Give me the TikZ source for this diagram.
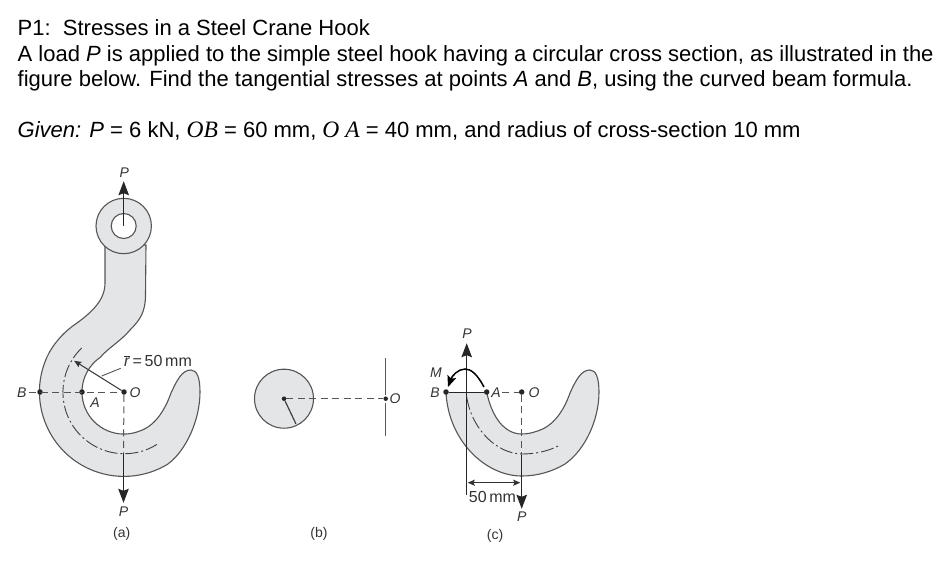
\documentclass[tikz,border=0pt]{standalone}
\usepackage{fontspec}
\setmainfont{Liberation Sans}
\newfontfamily\serifnames{Liberation Serif}
\usetikzlibrary{arrows.meta}
\definecolor{steel}{HTML}{E4E5E7}
\definecolor{edgeline}{HTML}{555555}
\definecolor{figtext}{HTML}{333333}
\tikzset{
  body/.style={fill=steel,draw=edgeline,line width=1.1pt},
  bodytext/.style={anchor=base west,inner sep=0pt,font=\fontsize{22}{26}\selectfont,text=black},
  figlabel/.style={inner sep=0pt,font=\fontsize{14}{16}\selectfont\itshape,text=figtext},
  caption/.style={inner sep=0pt,font=\fontsize{14}{16}\selectfont,text=figtext},
  dotnode/.style={circle,fill=black!85,inner sep=0pt,minimum size=5.5pt},
  bare/.style={inner sep=0pt,minimum size=0pt},
  dashline/.style={draw=edgeline,line width=1pt,dash pattern=on 7pt off 4.5pt},
  centreline/.style={draw=black!75,line width=0.9pt,dash pattern=on 13pt off 3pt on 2pt off 3pt},
  solidline/.style={draw=black!85,line width=1.2pt},
  bigtip/.style={-{Stealth[length=14pt,width=10.5pt,inset=2pt]}},
  smalltip/.style={-{Stealth[length=7pt,width=6pt,inset=1pt]}},
  twotips/.style={{Stealth[length=7pt,width=6pt,inset=1pt]}-{Stealth[length=7pt,width=6pt,inset=1pt]}}
}
\begin{document}
\begin{tikzpicture}[x=1pt,y=1pt,yscale=-1]
\useasboundingbox (0,0) rectangle (950,560);
% text
\node[bodytext] (t1) at (17.5,35) {P1:\ \ Stresses in a Steel Crane Hook};
\node[bodytext] (t2) at (17.5,61) {A load \textit{P} is applied to the simple steel hook having a circular cross section, as illustrated in the};
\node[bodytext] (t3) at (17.5,86) {figure below. Find the tangential stresses at points \textit{A} and \textit{B}, using the curved beam formula.};
\node[bodytext] (t4) at (17.5,137) {\textit{Given: P} = 6 kN, {\fontsize{23.5}{26}\serifnames\textit{OB}} = 60 mm, {\fontsize{23.5}{26}\serifnames\textit{O A}} = 40 mm, and radius of cross-section 10 mm};

% ---- (a) ----
\path[body] (105,245) -- (105,283)
  .. controls (105,300) and (92,312) .. (77,323)
  .. controls (62,333) and (52,346) .. (47,357)
  arc[start angle=204.4,end angle=59,radius=84.5]
  .. controls (186,451) and (200,420) .. (200,392)
  .. controls (200,378) and (197,370) .. (191,370)
  .. controls (182,370) and (177,380) .. (171,393)
  .. controls (165,410) and (155,426) .. (139.7,431)
  arc[start angle=68,end angle=235.6,radius=42]
  .. controls (107,349) and (122,340) .. (130,330)
  .. controls (140,320) and (145.5,312) .. (145.5,295)
  -- (146,245) -- cycle;
\path[body] (123.7,226) circle[radius=27.7];
\path[fill=white,draw=edgeline,line width=1.1pt] (123.7,226) circle[radius=12.5];

\node[bare] (eyeC) at (123.7,226) {};
\node[bare] (topTip) at (123.7,181) {};
\node[figlabel] (Ptop) at (124.3,173) {P};
\draw[solidline,bigtip] (eyeC) -- (topTip);

\node[dotnode] (Oa) at (124,392) {};
\node[dotnode] (Aa) at (82,392) {};
\node[dotnode] (Ba) at (40,392) {};
\node[bare] (Bfree) at (29,392) {};
\draw[dashline] (Bfree) -- (Oa);
\node[figlabel] (Blab) at (21.7,392.5) {B};
\node[figlabel] (Alab) at (95,403) {A};
\node[figlabel] (Olab) at (135,392.5) {O};
\draw[centreline] (81.7,348) arc[start angle=226,end angle=58,radius=61.5];
\node[bare] (rTip) at (74,360.7) {};
\draw[draw=black!80,line width=1pt,smalltip] (Oa) -- (rTip);
\node[figtext,anchor=base west,inner sep=0pt,font=\fontsize{16}{18}\selectfont] (rlab) at (124,366) {$\overline{\hbox{\fontsize{16}{18}\selectfont\textit{r}}}$\,=\,50\,mm};
\coordinate (leadA) at (120.7,368.3);
\coordinate (leadB) at (101.7,376);
\draw[draw=edgeline,line width=0.9pt] (leadA) -- (leadB);
\node[bare] (aMid) at (123.5,453) {};
\node[bare] (aTip) at (123.5,503) {};
\draw[dashline] (Oa) -- (aMid);
\draw[solidline,bigtip] (aMid) -- (aTip);
\node[figlabel] (Pbot) at (123.5,512) {P};
\node[caption] (capa) at (121.7,534) {(a)};

% ---- (b) ----
\path[body] (284,398.7) circle[radius=29.5];
\node[dotnode,minimum size=4.5pt] (Cb) at (284,398.7) {};
\node[dotnode,minimum size=4.5pt] (Ob) at (385.7,398.7) {};
\draw[dashline] (Cb) -- (Ob);
\node[bare] (rb) at (296,424) {};
\draw[draw=black!75,line width=1.2pt] (Cb) -- (rb);
\node[bare] (vb1) at (385.7,358) {};
\node[bare] (vb2) at (385.7,395) {};
\node[bare] (vb3) at (385.7,403) {};
\node[bare] (vb4) at (385.7,436) {};
\draw[draw=black!65,line width=1.5pt] (vb1) -- (vb2) (vb3) -- (vb4);
\node[figlabel] (Oblab) at (395,399) {O};
\node[caption] (capb) at (319,534) {(b)};

% ---- (c) ----
\path[fill=steel] (446,392)
  .. controls (448,440) and (485,476) .. (521.7,476)
  arc[start angle=90,end angle=59,radius=84]
  .. controls (585,450) and (599,420) .. (599,392)
  .. controls (599,378) and (596,370) .. (590,370)
  .. controls (581,370) and (576,380) .. (570,393)
  .. controls (564,410) and (554,426) .. (537.5,431)
  .. controls (532,433) and (527,434) .. (521.7,434)
  .. controls (505,434) and (492,418) .. (486.7,392) -- cycle;
\draw[draw=edgeline,line width=1.1pt] (446,392)
  .. controls (448,440) and (485,476) .. (521.7,476)
  arc[start angle=90,end angle=59,radius=84]
  .. controls (585,450) and (599,420) .. (599,392)
  .. controls (599,378) and (596,370) .. (590,370)
  .. controls (581,370) and (576,380) .. (570,393)
  .. controls (564,410) and (554,426) .. (537.5,431)
  .. controls (532,433) and (527,434) .. (521.7,434)
  .. controls (505,434) and (492,418) .. (486.7,392);
\draw[centreline] (466.7,397) .. controls (472,430) and (497,453.5) .. (521.7,454)
  .. controls (536,454) and (549,451) .. (560,445);
\node[dotnode] (Bc) at (446,392) {};
\node[dotnode] (Ac) at (486.7,392) {};
\node[dotnode] (Oc) at (521.7,392) {};
\draw[draw=black!85,line width=0.9pt] (Bc) -- (Ac);
\node[bare] (Adash) at (502,392) {};
\draw[dashline] (Adash) -- (Oc);
\node[bare] (cTop) at (466.7,343) {};
\node[bare] (cBot) at (466.7,495) {};
\draw[solidline,bigtip] (cBot) -- (cTop);
\node[figlabel] (Pc) at (467,334) {P};
\node[bare] (cMid) at (521.7,455) {};
\node[bare] (cTip) at (521.7,509) {};
\draw[dashline] (Oc) -- (cMid);
\draw[solidline,bigtip] (cMid) -- (cTip);
\node[figlabel] (Pc2) at (521.7,517) {P};
\coordinate (mStart) at (484,387);
\coordinate (mEnd) at (448,387);
\draw[draw=black,line width=1.5pt,-{Stealth[length=11pt,width=9pt,inset=2pt]}] (mStart) .. controls (477,374) and (471,369) .. (465,369) .. controls (458,369) and (452,376) .. (448,387);
\node[figlabel] (Mc) at (436,373) {M};
\node[figlabel] (Blabc) at (435,392.5) {B};
\node[figlabel] (Alabc) at (496,393) {A};
\node[figlabel] (Olabc) at (534,392.5) {O};
\node[bare] (d1) at (467.5,482.7) {};
\node[bare] (d2) at (520.5,482.7) {};
\draw[draw=black!80,line width=1pt,twotips] (d1) -- (d2);
\node[text=figtext,inner sep=0pt,font=\fontsize{16}{18}\selectfont] (dlab) at (492.5,497) {50\,mm};
\node[caption] (capc) at (495,536) {(c)};
\end{tikzpicture}
\end{document}
